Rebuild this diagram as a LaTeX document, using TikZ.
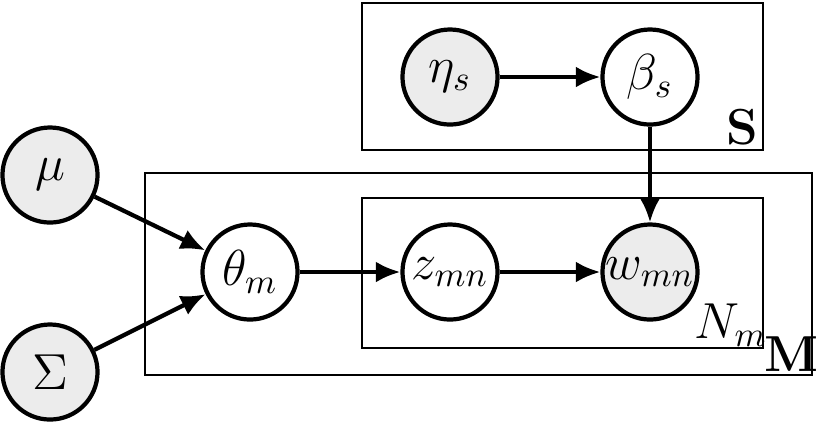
\documentclass[tikz,border=0pt]{standalone}
\usetikzlibrary{arrows.meta}
\begin{document}
\begin{tikzpicture}[x=0.01cm,y=-0.01cm,
  var/.style={circle,draw,line width=1.2pt,minimum size=0.95cm,inner sep=0pt,font=\Large},
  obs/.style={var,fill=gray!15},
  plate/.style={draw,line width=0.8pt},
  edge/.style={-{Latex[length=7pt,width=6pt]},line width=1.2pt},
  lab/.style={font=\Large}]
\useasboundingbox (0,0) rectangle (818,426);
\draw[plate] (362,3) rectangle (763,150);
\draw[plate] (145,173) rectangle (812,375);
\draw[plate] (362,198) rectangle (763,348);
\node[lab] (ls) at (742,127) {\textbf{S}};
\node[lab] (lm) at (792,354) {\textbf{M}};
\node[lab] (ln) at (731,325) {$N_m$};
\node[obs] (mu) at (50,175) {$\mu$};
\node[obs] (sig) at (50,372) {$\Sigma$};
\node[var] (th) at (250,272) {$\theta_m$};
\node[var] (z) at (450,272) {$z_{mn}$};
\node[obs] (w) at (650,272) {$w_{mn}$};
\node[obs] (eta) at (450,77) {$\eta_s$};
\node[var] (beta) at (650,77) {$\beta_s$};
\draw[edge] (mu) -- (th);
\draw[edge] (sig) -- (th);
\draw[edge] (th) -- (z);
\draw[edge] (z) -- (w);
\draw[edge] (eta) -- (beta);
\draw[edge] (beta) -- (w);
\end{tikzpicture}
\end{document}
